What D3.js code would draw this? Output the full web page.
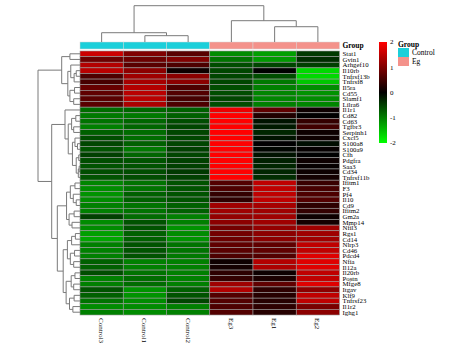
<!DOCTYPE html>
<html>
<head>
<meta charset="utf-8">
<script src="https://cdn.jsdelivr.net/npm/d3@7"></script>
<style>
  html, body { margin: 0; padding: 0; background: #fff; }
  svg { display: block; font-family: "Liberation Serif", "Times New Roman", serif; }
</style>
</head>
<body>
<svg id="chart" width="474" height="350"></svg>
<script>
// Samples (heatmap columns) in dendrogram order and their group annotation
const samples = ["Control3", "Control1", "Control2", "Eg3", "Eg1", "Eg2"];
const sampleGroup = ["Control", "Control", "Control", "Eg", "Eg", "Eg"];
const groups = ["Control", "Eg"];
const groupColors = ["#1ccfda", "#f4928b"];

// Genes (heatmap rows) in dendrogram order
const genes = [
  "Stat1", "Gvin1", "Arhgef10", "Il10rb", "Tnfrsf13b", "Tnfrsf8", "Il5ra", "Cd55",
  "Slamf1", "Lilra6", "Il1r1", "Cd82", "Cd63", "Tgfbr3", "Serpinh1", "Cxcl5",
  "S100a8", "S100a9", "Cfh", "Pdgfra", "Saa3", "Cd34", "Tnfrsf11b", "Ifitm1",
  "F3", "Pf4", "Il10", "Cd9", "Ifitm2", "Gm2a", "Mmp14", "Nfil3",
  "Rgs1", "Cd14", "Nlrp3", "Cd46", "Pdcd4", "Nfia", "Il12a", "Il20rb",
  "Postn", "Mfge8", "Itgav", "Klf9", "Tnfrsf23", "Il1r2", "Ighg1"
];

// Row-scaled expression (z-score), one row per gene, columns follow `samples`
const zscores = [
  [ 1.60,  1.00,  0.70, -1.10, -1.25, -0.45],
  [ 0.85,  0.85,  1.00, -0.90, -1.20, -0.35],
  [ 1.40,  0.70,  0.60, -0.60, -0.55, -0.50],
  [ 1.45,  1.10,  0.10, -0.55,  0.00, -1.70],
  [ 0.60,  1.25,  1.10, -0.55, -0.60, -1.70],
  [ 0.55,  1.30,  1.10, -0.55, -0.95, -1.55],
  [ 0.80,  1.40,  0.60, -0.60, -1.00, -1.10],
  [ 0.75,  1.45,  0.65, -0.60, -1.05, -1.15],
  [ 0.70,  1.45,  0.55, -0.55, -1.05, -1.10],
  [ 0.70,  1.35,  0.60, -0.60, -1.00, -1.05],
  [-0.85, -0.80, -0.75,  1.85,  0.75,  0.10],
  [-0.95, -0.95, -0.75,  2.00,  0.25,  0.00],
  [-0.90, -0.80, -0.60,  2.05, -0.15,  0.40],
  [-1.00, -0.80, -0.55,  2.05, -0.20,  0.50],
  [-0.75, -0.85, -0.55,  2.05, -0.30,  0.10],
  [-0.60, -0.85, -0.55,  2.05, -0.15,  0.10],
  [-0.55, -0.75, -0.55,  2.05,  0.00, -0.10],
  [-0.65, -0.95, -0.50,  2.05, -0.05,  0.05],
  [-0.50, -0.80, -0.55,  2.05, -0.15,  0.00],
  [-0.60, -0.65, -0.50,  2.10, -0.25,  0.10],
  [-0.65, -0.65, -0.50,  2.10, -0.30,  0.05],
  [-0.60, -0.60, -0.45,  2.10, -0.30,  0.10],
  [-0.65, -0.60, -0.50,  2.05, -0.35,  0.15],
  [-1.05, -0.90, -0.65,  0.65,  1.50,  0.45],
  [-1.10, -0.90, -0.65,  0.60,  1.50,  0.55],
  [-1.15, -0.75, -0.65,  0.40,  1.50,  0.60],
  [-1.10, -0.75, -0.65,  0.35,  1.50,  0.65],
  [-1.00, -0.90, -0.75,  1.25,  1.30,  0.35],
  [-1.00, -0.90, -0.75,  1.25,  1.25,  0.40],
  [-0.50, -0.85, -1.00,  1.15,  1.25,  0.10],
  [-1.10, -0.65, -1.00,  1.10,  1.25,  0.15],
  [-1.10, -0.65, -1.15,  0.90,  1.15,  1.25],
  [-1.25, -0.75, -1.10,  0.90,  1.10,  1.25],
  [-1.30, -0.75, -1.15,  0.85,  1.10,  1.25],
  [-1.00, -0.65, -0.90,  0.75,  0.75,  1.50],
  [-1.00, -0.65, -0.90,  0.70,  0.75,  1.50],
  [-1.00, -0.65, -0.95,  0.60,  0.65,  1.75],
  [-0.75, -1.00, -1.00,  0.10,  1.40,  1.75],
  [-0.75, -1.00, -1.00,  0.15,  1.35,  1.75],
  [-0.60, -0.90, -1.00,  0.35,  0.10,  1.50],
  [-1.00, -0.85, -1.00,  0.40,  0.20,  1.50],
  [-1.00, -0.85, -1.00,  1.25,  0.75,  1.75],
  [-0.65, -1.15, -0.75,  1.40,  0.35,  1.10],
  [-0.75, -1.15, -0.65,  0.65,  0.30,  1.50],
  [-0.90, -1.10, -0.55,  0.65,  0.30,  1.50],
  [-1.10, -1.10, -1.00,  0.60,  0.35,  0.95],
  [-1.00, -1.10, -1.00,  0.65,  0.30,  1.10]
];

// Colour key ticks
const legendTicks = [2, 1, 0, -1, -2];

// Clustering trees: [mergeHeight, left, right]; leaves are sample names / gene row indices
const colTree = [10, [2.56, "Control3", [1.74, "Control1", "Control2"]],
                     [5.87, "Eg3", [4.21, "Eg1", "Eg2"]]];
const rowTree = [10,
  [4.36, [2.4, 0, 1],
         [2.9, [2.2, 2, [1.4, [0.9, 3, 4], 5]], [2.4, [1.3, 6, 7], [1.5, 8, 9]]]],
  [6.74,
    [3.57, 10,
      [2.8, [2.0, [1.0, 11, 12], [1.5, 13, 14]],
            [1.8, [1.2, 15, [0.6, 16, 17]], [0.9, [0.3, 18, 19], [0.4, [0.2, 20, 21], 22]]]]],
    [5.4,
      [3.2, [2.3, [1.2, 23, 24], [1.6, 25, [0.9, 26, 27]]], [2.6, [1.4, 28, 29], [1.9, 30, 31]]],
      [4.0, [3.0, [2.0, [1.1, 32, 33], 34], [2.3, [1.3, 35, 36], [1.5, 37, 38]]],
            [3.3, [2.1, [1.2, 39, 40], [1.5, 41, 42]], [2.5, [1.4, 43, 44], [1.7, 45, 46]]]]]
  ]
];

// ---- layout ----
const heat = { left: 80, right: 339.5, top: 51, bottom: 315 };
const annot = { top: 42, bottom: 49 };
const cellStroke = "#9c9c9c";
const dendroColor = "#7a7a7a";

const svg = d3.select("#chart");

const x = d3.scaleBand().domain(samples).range([heat.left, heat.right]);
const y = d3.scaleBand().domain(d3.range(genes.length)).range([heat.top, heat.bottom]);
const color = d3.scaleLinear().domain([-2, 0, 2])
  .range(["#00ff00", "#000000", "#ff0000"]).clamp(true);
const groupColor = d3.scaleOrdinal().domain(groups).range(groupColors);

// Heatmap cells
const cells = [];
zscores.forEach((row, i) => row.forEach((v, j) => cells.push({ i, j, v })));
svg.append("g").selectAll("rect").data(cells).join("rect")
  .attr("x", d => x(samples[d.j]))
  .attr("y", d => y(d.i))
  .attr("width", x.bandwidth())
  .attr("height", y.bandwidth())
  .attr("fill", d => color(d.v))
  .attr("stroke", cellStroke)
  .attr("stroke-width", 0.6);

// Group annotation bar
svg.append("g").selectAll("rect").data(samples).join("rect")
  .attr("x", d => x(d))
  .attr("y", annot.top)
  .attr("width", x.bandwidth())
  .attr("height", annot.bottom - annot.top)
  .attr("fill", (d, j) => groupColor(sampleGroup[j]))
  .attr("stroke", "#d8d8d8")
  .attr("stroke-width", 0.5);

svg.append("text")
  .attr("x", heat.right + 3).attr("y", (annot.top + annot.bottom) / 2)
  .attr("dy", "0.35em")
  .attr("font-size", 7.5).attr("font-weight", "bold")
  .text("Group");

// Gene labels
svg.append("g").selectAll("text").data(genes).join("text")
  .attr("x", heat.right + 3)
  .attr("y", (d, i) => y(i) + y.bandwidth() / 2)
  .attr("dy", "0.35em")
  .attr("font-size", 6.8)
  .text(d => d);

// Sample labels, rotated to read downward
svg.append("g").selectAll("text").data(samples).join("text")
  .attr("transform", d => `translate(${x(d) + x.bandwidth() / 2},${heat.bottom + 3}) rotate(90)`)
  .attr("dy", "0.35em")
  .attr("font-size", 7)
  .text(d => d);

// ---- dendrograms ----
function toNode(t) {
  return Array.isArray(t)
    ? { h: t[0], children: [toNode(t[1]), toNode(t[2])] }
    : { h: 0, leaf: t };
}
function placeTree(tree, leafPos) {
  const root = d3.hierarchy(toNode(tree));
  root.eachAfter(n => {
    n.pos = n.children ? (n.children[0].pos + n.children[1].pos) / 2 : leafPos(n.data.leaf);
  });
  return root;
}

// Column dendrogram (top)
const colRoot = placeTree(colTree, s => x(s) + x.bandwidth() / 2);
const colH = d3.scaleLinear().domain([0, colRoot.data.h]).range([annot.top, 5.7]);
svg.append("g").selectAll("path")
  .data(colRoot.descendants().filter(n => n.children))
  .join("path")
  .attr("fill", "none").attr("stroke", dendroColor).attr("stroke-width", 1)
  .attr("d", n => {
    const [a, b] = n.children;
    return `M${a.pos},${colH(a.data.h)}V${colH(n.data.h)}H${b.pos}V${colH(b.data.h)}`;
  });

// Row dendrogram (left)
const rowRoot = placeTree(rowTree, i => y(i) + y.bandwidth() / 2);
const rowH = d3.scaleLinear().domain([0, rowRoot.data.h]).range([heat.left, 38]);
svg.append("g").selectAll("path")
  .data(rowRoot.descendants().filter(n => n.children))
  .join("path")
  .attr("fill", "none").attr("stroke", dendroColor).attr("stroke-width", 1)
  .attr("d", n => {
    const [a, b] = n.children;
    return `M${rowH(a.data.h)},${a.pos}H${rowH(n.data.h)}V${b.pos}H${rowH(b.data.h)}`;
  });

// ---- colour key ----
const key = { x: 379, w: 8, top: 42, bottom: 143 };
const keyY = d3.scaleLinear().domain([2, -2]).range([key.top, key.bottom]);
const grad = svg.append("defs").append("linearGradient")
  .attr("id", "keyGrad").attr("x1", 0).attr("y1", 0).attr("x2", 0).attr("y2", 1);
d3.range(2, -2.01, -0.5).forEach(v => {
  grad.append("stop")
    .attr("offset", (keyY(v) - key.top) / (key.bottom - key.top))
    .attr("stop-color", color(v));
});
svg.append("rect")
  .attr("x", key.x).attr("y", key.top)
  .attr("width", key.w).attr("height", key.bottom - key.top)
  .attr("fill", "url(#keyGrad)");
svg.append("g").selectAll("text").data(legendTicks).join("text")
  .attr("x", key.x + key.w + 3)
  .attr("y", d => keyY(d))
  .attr("dy", "0.35em")
  .attr("font-size", 7)
  .text(d => d);

// ---- group legend ----
const gl = { x: 398, top: 44, sw: 11, sh: 9 };
svg.append("text")
  .attr("x", gl.x).attr("y", gl.top).attr("dy", "0.35em")
  .attr("font-size", 7.5).attr("font-weight", "bold")
  .text("Group");
const items = svg.append("g").selectAll("g").data(groups).join("g")
  .attr("transform", (d, k) => `translate(${gl.x},${gl.top + 4 + k * gl.sh})`);
items.append("rect")
  .attr("width", gl.sw).attr("height", gl.sh)
  .attr("fill", d => groupColor(d));
items.append("text")
  .attr("x", gl.sw + 3).attr("y", gl.sh / 2).attr("dy", "0.35em")
  .attr("font-size", 7.5)
  .text(d => d);
</script>
</body>
</html>
